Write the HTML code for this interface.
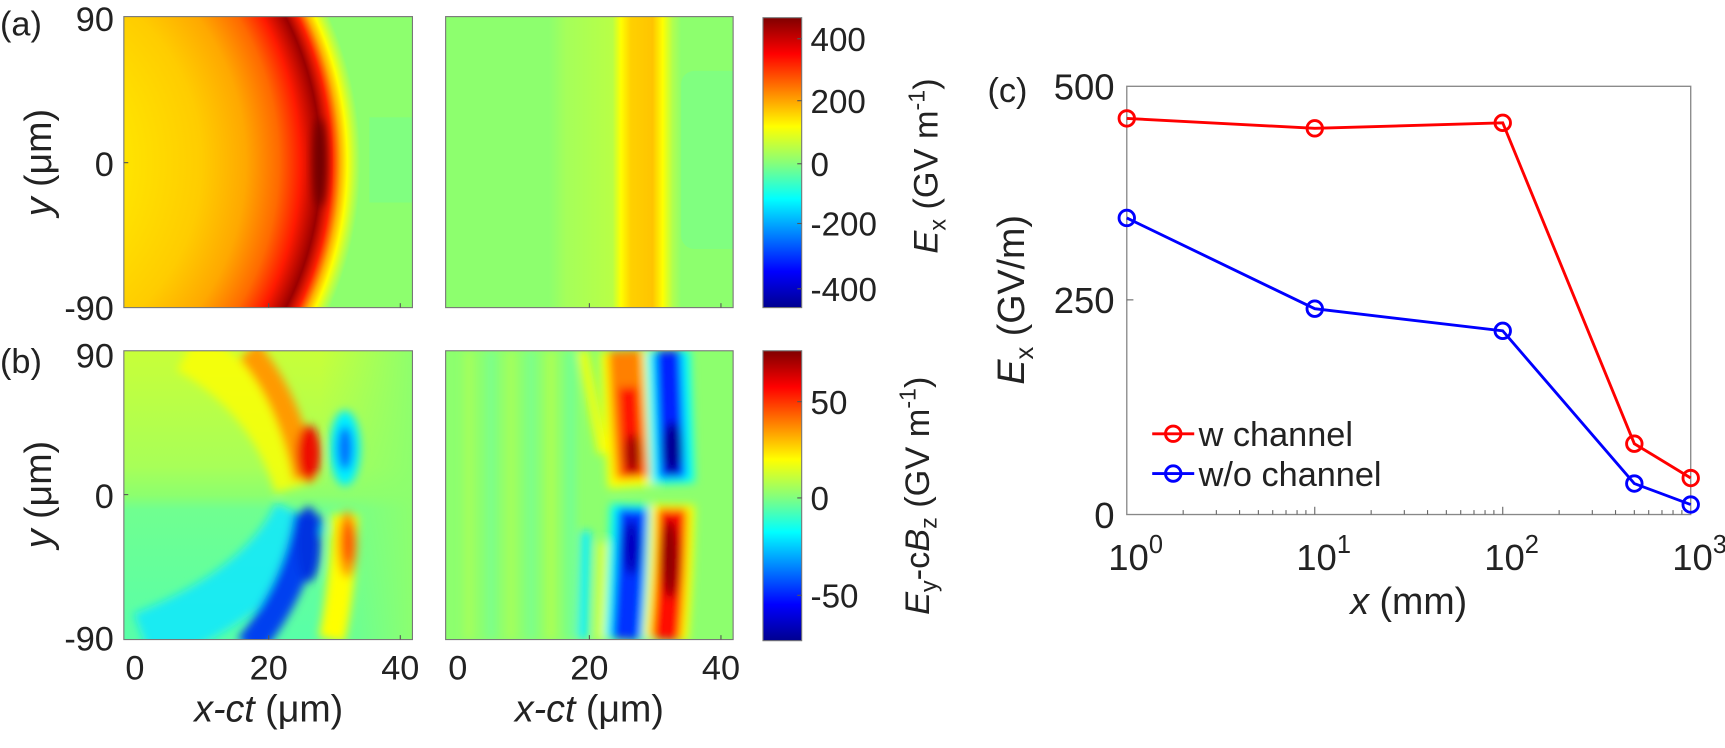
<!DOCTYPE html>
<html><head><meta charset="utf-8"><style>
html,body{margin:0;padding:0;background:#fff;}
svg{display:block;}
text{font-family:"Liberation Sans",Arial,sans-serif;fill:#222;}
</style></head><body>
<svg width="1725" height="748" viewBox="0 0 1560 676" preserveAspectRatio="none" xmlns="http://www.w3.org/2000/svg">
<defs>
<linearGradient id="jet" x1="0" y1="1" x2="0" y2="0">
<stop offset="0" stop-color="#00008f"/><stop offset="0.125" stop-color="#0000ff"/>
<stop offset="0.375" stop-color="#00ffff"/><stop offset="0.5" stop-color="#88ff78"/>
<stop offset="0.625" stop-color="#ffff00"/><stop offset="0.875" stop-color="#ff0000"/>
<stop offset="1" stop-color="#800000"/></linearGradient>
<radialGradient id="ringA" gradientUnits="userSpaceOnUse" cx="2" cy="147" r="324">
<stop offset="0" stop-color="#ffee00"/><stop offset="0.34" stop-color="#ffe400"/>
<stop offset="0.556" stop-color="#ffcc00"/><stop offset="0.68" stop-color="#ffa800"/>
<stop offset="0.772" stop-color="#ff6a00"/><stop offset="0.833" stop-color="#ff1a00"/>
<stop offset="0.889" stop-color="#9a0000"/><stop offset="0.92" stop-color="#ff2000"/>
<stop offset="0.944" stop-color="#ffb000"/><stop offset="0.963" stop-color="#ffff00"/>
<stop offset="0.982" stop-color="#c0ff40"/><stop offset="1" stop-color="#8dff6e"/>
</radialGradient>
<linearGradient id="bandA" gradientUnits="userSpaceOnUse" x1="403" y1="0" x2="663" y2="0">
<stop offset="0" stop-color="#8dff6e"/><stop offset="0.36" stop-color="#8dff6e"/>
<stop offset="0.42" stop-color="#a5ff5a"/><stop offset="0.58" stop-color="#b8ff46"/>
<stop offset="0.61" stop-color="#ffff00"/><stop offset="0.645" stop-color="#ffd000"/>
<stop offset="0.72" stop-color="#ffc400"/><stop offset="0.755" stop-color="#ffff00"/>
<stop offset="0.79" stop-color="#b0ff50"/><stop offset="0.82" stop-color="#8dff6e"/>
<stop offset="1" stop-color="#8dff6e"/></linearGradient>
<linearGradient id="bgB" x1="0" y1="0" x2="0" y2="1">
<stop offset="0" stop-color="#c8ff38"/><stop offset="0.4" stop-color="#a8ff58"/>
<stop offset="0.5" stop-color="#8dff6e"/><stop offset="0.55" stop-color="#70ff90"/>
<stop offset="1" stop-color="#58ffa8"/></linearGradient>
<linearGradient id="fadeR" x1="0" y1="0" x2="1" y2="0">
<stop offset="0" stop-color="#8dff6e" stop-opacity="0"/><stop offset="1" stop-color="#8dff6e" stop-opacity="1"/></linearGradient>
<filter id="bl" x="-50%" y="-50%" width="200%" height="200%"><feGaussianBlur stdDeviation="4"/></filter>
<clipPath id="c1"><rect x="112" y="15" width="261" height="263"/></clipPath>
<clipPath id="c2"><rect x="403" y="15" width="260" height="263"/></clipPath>
<clipPath id="c3"><rect x="112" y="317" width="261" height="261"/></clipPath>
<clipPath id="c4"><rect x="403" y="317" width="260" height="261"/></clipPath>
</defs>

<!-- Panel a left -->
<g clip-path="url(#c1)">
<rect x="112" y="15" width="261" height="263" fill="url(#ringA)"/>
<ellipse cx="289" cy="147" rx="6" ry="40" fill="#700000" filter="url(#bl)"/>
<rect x="334" y="106" width="41" height="77" fill="#80ff80"/>
</g>
<rect x="112" y="15" width="261" height="263" fill="none" stroke="#777" stroke-width="1"/>
<!-- Panel a right -->
<g clip-path="url(#c2)">
<rect x="403" y="15" width="260" height="263" fill="url(#bandA)"/>
<rect x="616" y="64" width="60" height="161" rx="12" fill="#80ff80"/>
</g>
<rect x="403" y="15" width="260" height="263" fill="none" stroke="#777" stroke-width="1"/>

<!-- Panel b left -->
<g clip-path="url(#c3)">
<rect x="112" y="317" width="261" height="261" fill="url(#bgB)"/>
<rect x="290" y="317" width="85" height="261" fill="url(#fadeR)"/>
<g filter="url(#bl)">
<path d="M170,317 Q245,360 268,440" stroke="#ffff00" stroke-width="40" fill="none" opacity="0.8"/>
<path d="M225,317 Q262,360 276,432" stroke="#ff9a00" stroke-width="22" fill="none"/>
<ellipse cx="279" cy="410" rx="11" ry="26" fill="#ee1000"/>
<ellipse cx="312" cy="405" rx="14" ry="34" fill="#00f0ff"/>
<ellipse cx="312" cy="405" rx="7" ry="20" fill="#0070ff"/>
<path d="M130,578 Q240,535 272,465" stroke="#10e8ff" stroke-width="50" fill="none" opacity="0.85"/>
<path d="M225,585 Q270,530 279,465" stroke="#0040f0" stroke-width="26" fill="none"/>
<ellipse cx="279" cy="492" rx="11" ry="34" fill="#0030e0"/>
<path d="M312,465 Q310,530 300,578" stroke="#ffff00" stroke-width="24" fill="none"/>
<ellipse cx="314" cy="492" rx="9" ry="30" fill="#ffa000"/>
<ellipse cx="315" cy="490" rx="5" ry="20" fill="#ff5000"/>
</g>
</g>
<rect x="112" y="317" width="261" height="261" fill="none" stroke="#777" stroke-width="1"/>

<!-- Panel b right -->
<g clip-path="url(#c4)">
<rect x="403" y="317" width="260" height="261" fill="#8dff6e"/>
<g filter="url(#bl)">
<rect x="420" y="317" width="8" height="261" fill="#a8ff58"/>
<rect x="440" y="317" width="8" height="261" fill="#78ff90"/>
<rect x="458" y="317" width="8" height="261" fill="#a8ff58"/>
<rect x="476" y="317" width="8" height="261" fill="#78ff90"/>
<rect x="494" y="317" width="8" height="261" fill="#b0ff50"/>
<rect x="512" y="317" width="8" height="261" fill="#70ff98"/>
<path d="M527,317 L545,410" stroke="#f0ff10" stroke-width="9" fill="none"/>
<path d="M565,317 Q568,380 572,440" stroke="#ffff00" stroke-width="44" fill="none"/>
<path d="M565,317 Q568,380 572,432" stroke="#ff8000" stroke-width="30" fill="none"/>
<path d="M568,350 L572,432" stroke="#ff1000" stroke-width="18" fill="none"/>
<ellipse cx="572" cy="410" rx="7" ry="18" fill="#a00000"/>
<path d="M604,317 Q606,380 608,437" stroke="#00ffff" stroke-width="40" fill="none"/>
<path d="M604,317 Q606,380 608,432" stroke="#0020ff" stroke-width="24" fill="none"/>
<ellipse cx="608" cy="405" rx="8" ry="24" fill="#000090"/>
<path d="M530,480 L527,578" stroke="#10f0ff" stroke-width="9" fill="none"/>
<path d="M545,490 L543,578" stroke="#e8ff20" stroke-width="7" fill="none"/>
<path d="M572,456 Q570,520 566,578" stroke="#00ffff" stroke-width="40" fill="none"/>
<path d="M572,460 Q570,520 566,578" stroke="#0030ff" stroke-width="26" fill="none"/>
<ellipse cx="571" cy="495" rx="8" ry="25" fill="#0000c0"/>
<path d="M608,456 Q607,520 602,578" stroke="#ffff00" stroke-width="40" fill="none"/>
<path d="M608,460 Q607,520 602,578" stroke="#ff1000" stroke-width="26" fill="none"/>
<ellipse cx="606" cy="505" rx="8" ry="36" fill="#900000"/>
</g>
</g>
<rect x="403" y="317" width="260" height="261" fill="none" stroke="#777" stroke-width="1"/>

<g stroke="#555" stroke-width="1">
<line x1="243" y1="578" x2="243" y2="574"/><line x1="362" y1="578" x2="362" y2="574"/>
<line x1="533" y1="578" x2="533" y2="574"/><line x1="652" y1="578" x2="652" y2="574"/>
<line x1="243" y1="278" x2="243" y2="274"/><line x1="362" y1="278" x2="362" y2="274"/>
<line x1="533" y1="278" x2="533" y2="274"/><line x1="652" y1="278" x2="652" y2="274"/>
<line x1="112" y1="147" x2="116" y2="147"/><line x1="112" y1="447" x2="116" y2="447"/>
</g>

<!-- colorbars -->
<rect x="690" y="16" width="35" height="262" fill="url(#jet)" stroke="#777" stroke-width="1"/>
<rect x="690" y="317" width="35" height="262" fill="url(#jet)" stroke="#777" stroke-width="1"/>
<g font-size="30">
<text x="733" y="46">400</text><text x="733" y="102">200</text><text x="733" y="159">0</text>
<text x="733" y="213">-200</text><text x="733" y="272">-400</text>
<text x="733" y="374">50</text><text x="733" y="461">0</text><text x="733" y="549">-50</text>
</g>
<g stroke="#555" stroke-width="1">
<line x1="721" y1="35" x2="725" y2="35"/><line x1="721" y1="91" x2="725" y2="91"/><line x1="721" y1="148" x2="725" y2="148"/><line x1="721" y1="202" x2="725" y2="202"/><line x1="721" y1="261" x2="725" y2="261"/>
<line x1="721" y1="363" x2="725" y2="363"/><line x1="721" y1="450" x2="725" y2="450"/><line x1="721" y1="538" x2="725" y2="538"/>
</g>
<text transform="translate(848,150) rotate(-90)" text-anchor="middle" font-size="31"><tspan font-style="italic">E</tspan><tspan font-size="21" dy="7">x</tspan><tspan dy="-7"> (GV m</tspan><tspan font-size="21" dy="-12">-1</tspan><tspan dy="12">)</tspan></text>
<text transform="translate(840,448) rotate(-90)" text-anchor="middle" font-size="31"><tspan font-style="italic">E</tspan><tspan font-size="21" dy="7">y</tspan><tspan dy="-7">-c</tspan><tspan font-style="italic">B</tspan><tspan font-size="21" dy="7">z</tspan><tspan dy="-7"> (GV m</tspan><tspan font-size="21" dy="-12">-1</tspan><tspan dy="12">)</tspan></text>

<g font-size="31">
<text x="0" y="32">(a)</text><text x="0" y="337">(b)</text>
<text x="103" y="28" text-anchor="end">90</text><text x="103" y="159" text-anchor="end">0</text><text x="103" y="289" text-anchor="end">-90</text>
<text x="103" y="332" text-anchor="end">90</text><text x="103" y="459" text-anchor="end">0</text><text x="103" y="588" text-anchor="end">-90</text>
<text x="122" y="614" text-anchor="middle">0</text><text x="243" y="614" text-anchor="middle">20</text><text x="362" y="614" text-anchor="middle">40</text>
<text x="414" y="614" text-anchor="middle">0</text><text x="533" y="614" text-anchor="middle">20</text><text x="652" y="614" text-anchor="middle">40</text>
</g>
<g font-size="34">
<text transform="translate(46,147) rotate(-90)" text-anchor="middle"><tspan font-style="italic">y</tspan> (μm)</text>
<text transform="translate(46,447) rotate(-90)" text-anchor="middle"><tspan font-style="italic">y</tspan> (μm)</text>
<text x="243" y="652" text-anchor="middle"><tspan font-style="italic">x-ct</tspan> (μm)</text>
<text x="533" y="652" text-anchor="middle"><tspan font-style="italic">x-ct</tspan> (μm)</text>
</g>

<!-- panel c -->
<text x="893" y="92" font-size="31">(c)</text>
<rect x="1019" y="78" width="510" height="387" fill="none" stroke="#888" stroke-width="1.2"/>
<g stroke="#666" stroke-width="1">
<line x1="1019" y1="271" x2="1025" y2="271"/>
<line x1="1189" y1="465" x2="1189" y2="458"/><line x1="1359" y1="465" x2="1359" y2="458"/>
<line x1="1070" y1="465" x2="1070" y2="461"/><line x1="1100" y1="465" x2="1100" y2="461"/><line x1="1121" y1="465" x2="1121" y2="461"/><line x1="1138" y1="465" x2="1138" y2="461"/><line x1="1151" y1="465" x2="1151" y2="461"/><line x1="1163" y1="465" x2="1163" y2="461"/><line x1="1173" y1="465" x2="1173" y2="461"/><line x1="1181" y1="465" x2="1181" y2="461"/>
<line x1="1240" y1="465" x2="1240" y2="461"/><line x1="1270" y1="465" x2="1270" y2="461"/><line x1="1291" y1="465" x2="1291" y2="461"/><line x1="1308" y1="465" x2="1308" y2="461"/><line x1="1321" y1="465" x2="1321" y2="461"/><line x1="1333" y1="465" x2="1333" y2="461"/><line x1="1343" y1="465" x2="1343" y2="461"/><line x1="1351" y1="465" x2="1351" y2="461"/>
<line x1="1410" y1="465" x2="1410" y2="461"/><line x1="1440" y1="465" x2="1440" y2="461"/><line x1="1461" y1="465" x2="1461" y2="461"/><line x1="1478" y1="465" x2="1478" y2="461"/><line x1="1491" y1="465" x2="1491" y2="461"/><line x1="1503" y1="465" x2="1503" y2="461"/><line x1="1513" y1="465" x2="1513" y2="461"/><line x1="1521" y1="465" x2="1521" y2="461"/>
</g>
<g font-size="33">
<text x="1008" y="90" text-anchor="end">500</text><text x="1008" y="283" text-anchor="end">250</text><text x="1008" y="477" text-anchor="end">0</text>
</g>
<g font-size="33">
<text x="1027" y="515" text-anchor="middle">10<tspan font-size="23" dy="-15">0</tspan></text>
<text x="1197" y="515" text-anchor="middle">10<tspan font-size="23" dy="-15">1</tspan></text>
<text x="1367" y="515" text-anchor="middle">10<tspan font-size="23" dy="-15">2</tspan></text>
<text x="1537" y="515" text-anchor="middle">10<tspan font-size="23" dy="-15">3</tspan></text>
</g>
<text x="1274" y="555" text-anchor="middle" font-size="34"><tspan font-style="italic">x</tspan> (mm)</text>
<text transform="translate(926,271) rotate(-90)" text-anchor="middle" font-size="34"><tspan font-style="italic">E</tspan><tspan font-size="23" dy="8">x</tspan><tspan dy="-8"> (GV/m)</tspan></text>
<g fill="none" stroke-width="2.6">
<polyline points="1019,107 1189,116 1359,111 1478,401 1529,432" stroke="#ff0000"/>
<polyline points="1019,197 1189,279 1359,299 1478,437 1529,456" stroke="#0000ff"/>
<g stroke="#ff0000"><circle cx="1019" cy="107" r="7"/><circle cx="1189" cy="116" r="7"/><circle cx="1359" cy="111" r="7"/><circle cx="1478" cy="401" r="7"/><circle cx="1529" cy="432" r="7"/></g>
<g stroke="#0000ff"><circle cx="1019" cy="197" r="7"/><circle cx="1189" cy="279" r="7"/><circle cx="1359" cy="299" r="7"/><circle cx="1478" cy="437" r="7"/><circle cx="1529" cy="456" r="7"/></g>
<line x1="1042" y1="392" x2="1080" y2="392" stroke="#ff0000"/><circle cx="1061" cy="392" r="7" stroke="#ff0000"/>
<line x1="1042" y1="428" x2="1080" y2="428" stroke="#0000ff"/><circle cx="1061" cy="428" r="7" stroke="#0000ff"/>
</g>
<g font-size="31"><text x="1084" y="403">w channel</text><text x="1084" y="439">w/o channel</text></g>
</svg>
</body></html>
